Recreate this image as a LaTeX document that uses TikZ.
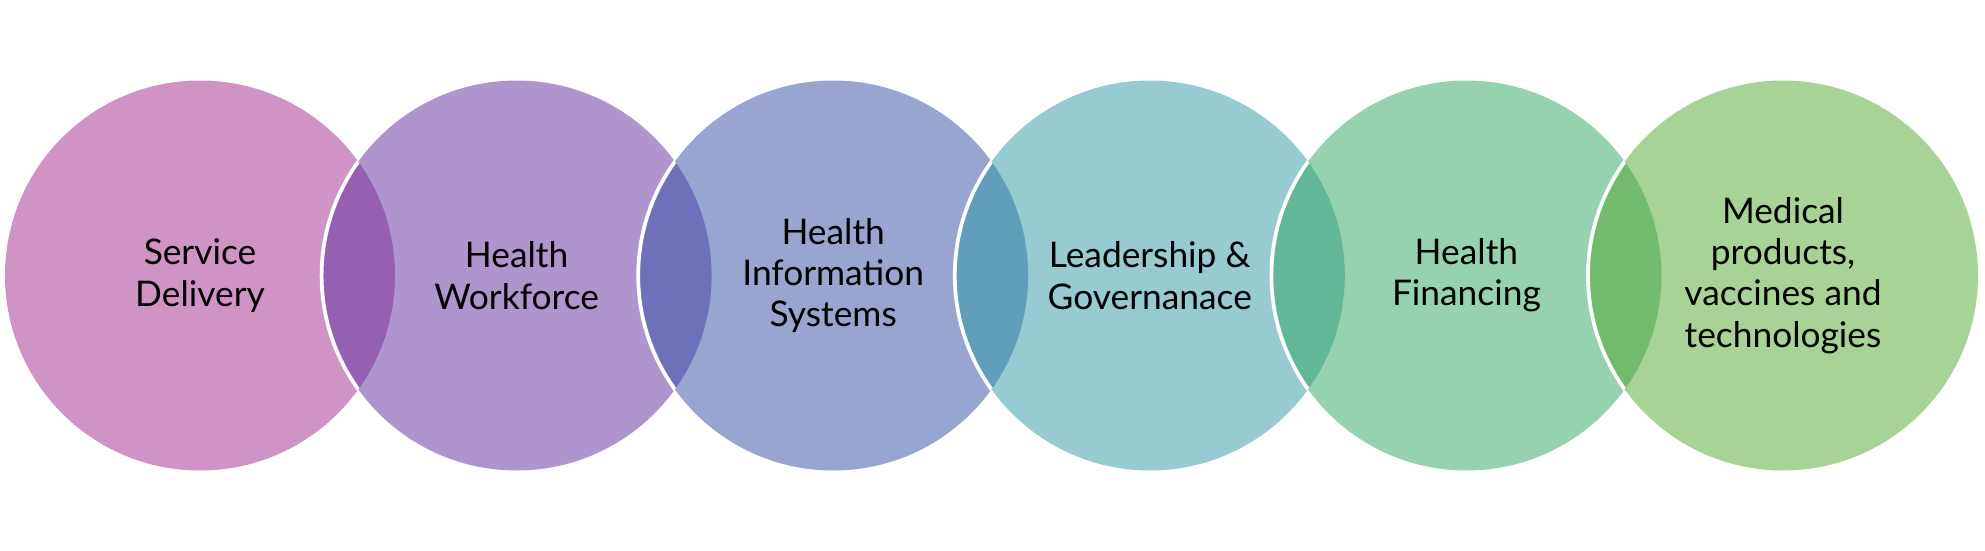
\documentclass[tikz,border=0pt]{standalone}
\usepackage{fontspec}
\setmainfont{Lato}
\definecolor{ca}{HTML}{CF93C6}
\definecolor{cb}{HTML}{AE95CE}
\definecolor{cc}{HTML}{97A5D0}
\definecolor{cd}{HTML}{98CAD1}
\definecolor{ce}{HTML}{97D2B0}
\definecolor{cf}{HTML}{A8D396}
\definecolor{la}{HTML}{9660B2}
\definecolor{lb}{HTML}{6E71B9}
\definecolor{lc}{HTML}{609EBA}
\definecolor{ld}{HTML}{62B798}
\definecolor{le}{HTML}{72BB6E}
\tikzset{
  lbl/.style={align=center, text=black, font=\fontsize{26.5}{31}\selectfont},
  sep/.style={draw=white, line width=2.8pt}
}
\begin{document}
\begin{tikzpicture}[x=0.75pt,y=-0.75pt]
\useasboundingbox (0,0) rectangle (1985,550);
\def\R{146.25pt}
\foreach \i/\col in {1/ca,2/cb,3/cc,4/cd,5/ce,6/cf}{
  \coordinate (c\i) at ({200+316.6*(\i-1)},275.5);
  \fill[\col] (c\i) circle[radius=\R];
}
\foreach \i/\j/\col in {1/2/la,2/3/lb,3/4/lc,4/5/ld,5/6/le}{
  \begin{scope}
    \clip (c\i) circle[radius=\R];
    \fill[\col] (c\j) circle[radius=\R];
    \draw[sep] (c\j) circle[radius=\R];
  \end{scope}
}
\node[lbl] (n1) at (c1) {Service\\Delivery};
\node[lbl] (n2) at (c2) {Health\\Workforce};
\node[lbl] (n3) at (c3) {Health\\Information\\Systems};
\node[lbl] (n4) at (c4) {Leadership \&\\Governanace};
\node[lbl] (n5) at (c5) {Health\\Financing};
\node[lbl] (n6) at (c6) {Medical\\products,\\vaccines and\\technologies};
\end{tikzpicture}
\end{document}
